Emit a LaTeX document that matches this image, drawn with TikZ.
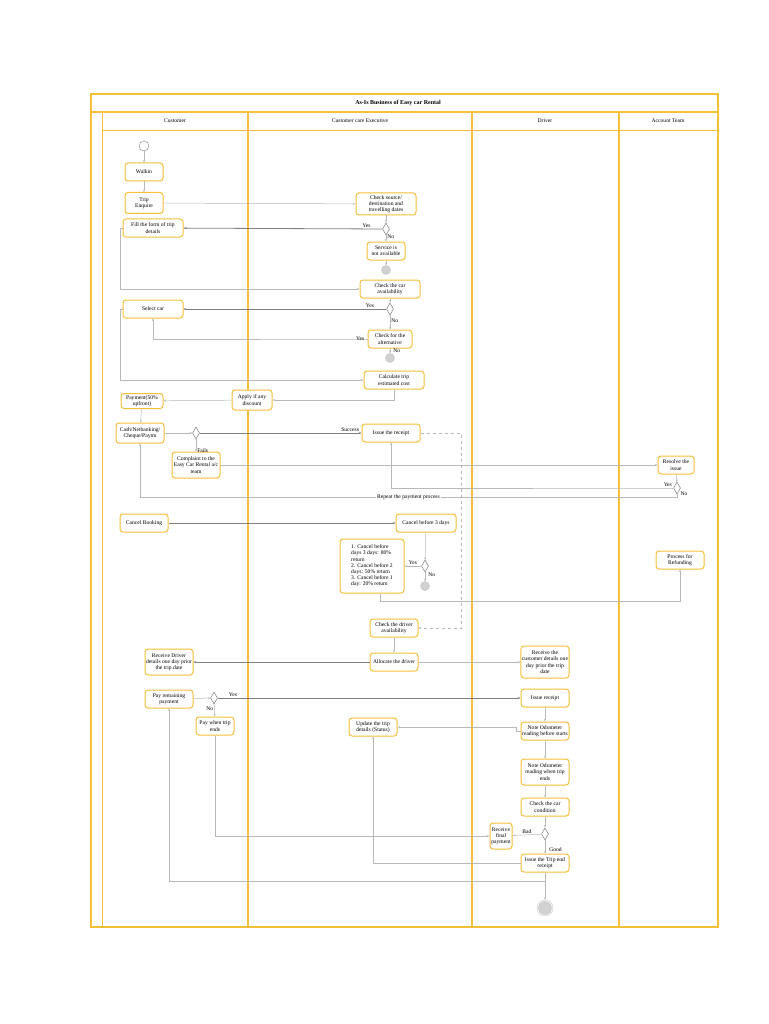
\documentclass[tikz,border=0pt]{standalone}
\usepackage{fontspec}
\setmainfont{Liberation Serif}
\usetikzlibrary{shapes.geometric,arrows.meta,calc}
\definecolor{ylw}{HTML}{F5C038}
\definecolor{ln}{HTML}{B8B8B8}
\definecolor{dk}{HTML}{808080}
\tikzset{
 act/.style={draw=ylw,line width=1pt,rounded corners=3pt,fill=white,align=center,font=\fontsize{5.6}{6.2}\selectfont,inner sep=1pt,minimum height=18pt},
 dec/.style={draw=dk,diamond,aspect=0.6,inner sep=0pt,minimum width=7pt,minimum height=12pt,fill=white,line width=0.5pt},
 fin/.style={circle,fill=black!18,draw=black!25,minimum size=9pt,inner sep=0pt},
 arr/.style={draw=ln,line width=0.5pt,-{Stealth[length=2.5pt,width=2pt]}},
 darr/.style={draw=dk,line width=0.8pt,-{Stealth[length=2.5pt,width=2pt]}},
 dsh/.style={arr,dashed},
 lbl/.style={font=\fontsize{5.6}{6.2}\selectfont,inner sep=1pt},
 lane/.style={draw=ylw,line width=1.2pt}
}
\begin{document}
\begin{tikzpicture}[x=1pt,y=-1pt]
\useasboundingbox (0,0) rectangle (768,1024);
% frame
\draw[lane] (91,94) rectangle (718,927);
\draw[lane] (91,112) -- (718,112);
\draw[draw=ylw,line width=0.8pt] (102,112) -- (102,927);
\draw[draw=ylw,line width=0.8pt] (102,130) -- (718,130);
\draw[lane] (248,112) -- (248,927);
\draw[lane] (472,112) -- (472,927);
\draw[lane] (619,112) -- (619,927);
\node[font=\bfseries\fontsize{6}{6.5}\selectfont] (title) at (398,103) {As-Is Business of Easy car Rental};
\node[lbl] (h1) at (175,121) {Customer};
\node[lbl] (h2) at (360,121) {Customer care Executive};
\node[lbl] (h3) at (545,121) {Driver};
\node[lbl] (h4) at (668,121) {Account Team};
% nodes
\node[circle,draw=dk,minimum size=10pt,inner sep=0pt] (start) at (144,146) {};
\node[act,minimum width=38pt] (walk) at (144,172) {Walkin};
\node[act,minimum width=38pt,minimum height=21pt] (trip) at (144,203) {Trip\\Enquire};
\node[act,minimum width=60pt,minimum height=22pt] (src) at (386,204) {Check source/\\destination and\\travelling dates};
\node[act,minimum width=60pt] (fill) at (153,228) {Fill the form of trip\\details};
\node[dec] (d1) at (386,229) {};
\node[act,minimum width=38pt] (nsvc) at (386,251) {Service is\\not available};
\node[fin] (e1) at (386,270) {};
\node[act,minimum width=60pt] (car) at (390,289) {Check the car\\availability};
\node[dec] (d2) at (390,309) {};
\node[act,minimum width=60pt] (sel) at (153,309) {Select car};
\node[act,minimum width=44pt] (alt) at (390,339) {Check for the\\alternative};
\node[fin] (e2) at (390,358) {};
\node[act,minimum width=60pt] (calc) at (394,380) {Calculate trip\\estimated cost};
\node[act,minimum width=40pt,minimum height=20pt] (disc) at (252,400) {Apply if any\\discount};
\node[act,minimum width=42pt,minimum height=15pt] (pay) at (142,401) {Payment(50\%\\upfront)};
\node[act,minimum width=48pt,minimum height=20pt] (cash) at (140,433) {Cash/Netbanking/\\Cheque/Paytm};
\node[dec] (d3) at (196,433) {};
\node[act,minimum width=58pt] (rcpt) at (391,433) {Issue the receipt};
\node[act,minimum width=48pt,minimum height=26pt] (comp) at (196,465) {Complaint to the\\Easy Car Rental a/c\\team};
\node[act,minimum width=36pt] (res) at (676,465) {Resolve the\\issue};
\node[dec] (d4) at (677,488) {};
\node[act,minimum width=48pt] (cb) at (144,523) {Cancel Booking};
\node[act,minimum width=60pt] (c3) at (426,523) {Cancel before 3 days};
\node[act,minimum width=64pt,minimum height=54pt,align=left] (list) at (372,566) {1. Cancel before\\days 3 days: 80\%\\return\\2. Cancel before 2\\days: 50\% return\\3. Cancel before 1\\day: 20\% return};
\node[dec] (d5) at (425,566) {};
\node[fin] (e3) at (425,586) {};
\node[act,minimum width=48pt] (ref) at (680,560) {Process for\\Refunding};
\node[act,minimum width=48pt] (drv) at (394,628) {Check the driver\\availability};
\node[act,minimum width=48pt] (alloc) at (394,662) {Allocate the driver};
\node[act,minimum width=48pt,minimum height=26pt] (rdd) at (169,662) {Receive Driver\\details one day prior\\the trip date};
\node[act,minimum width=48pt,minimum height=32pt] (rcd) at (545,662) {Receive the\\customer details one\\day prior the trip\\date};
\node[act,minimum width=48pt] (prem) at (169,699) {Pay remaining\\payment};
\node[dec] (d6) at (214,698) {};
\node[act,minimum width=48pt] (ir) at (545,698) {Issue receipt};
\node[act,minimum width=38pt] (pwt) at (215,726) {Pay when trip\\ends};
\node[act,minimum width=48pt] (upd) at (373,727) {Update the trip\\details (Status)};
\node[act,minimum width=48pt] (nob) at (545,731) {Note Odometer\\reading before starts};
\node[act,minimum width=48pt,minimum height=26pt] (noe) at (545,772) {Note Odometer\\reading when trip\\ends};
\node[act,minimum width=48pt] (ccc) at (545,807) {Check the car\\condition};
\node[dec] (d7) at (545,834) {};
\node[act,minimum width=22pt,minimum height=26pt] (rfp) at (501,836) {Receive\\final\\payment};
\node[act,minimum width=48pt] (ite) at (545,863) {Issue the Trip end\\receipt};
\node[circle,draw=black!25,minimum size=16pt,inner sep=0pt] (endo) at (545,908) {};
\node[fin,minimum size=13pt] (endi) at (545,908) {};
% edges
\draw[arr] (start) -- (walk);
\draw[arr] (walk) -- (trip);
\draw[arr] (trip) -- (src);
\draw[arr] (src) -- (d1);
\draw[darr] (d1) -- node[lbl,above,pos=0.08]{Yes} (fill);
\draw[arr] (d1) -- node[lbl,right,pos=0.3]{No} (nsvc);
\draw[arr] (nsvc) -- (e1);
\draw[arr] (fill.west) -- ++(-2,0) |- (car.west);
\draw[arr] (car) -- (d2);
\draw[darr] (d2) -- node[lbl,above,pos=0.08]{Yes} (sel);
\draw[arr] (d2) -- node[lbl,right,pos=0.4]{No} (alt);
\draw[arr] (alt.west) -- node[lbl,left,pos=1]{Yes} ++(-2,0) -| (sel.south);
\draw[arr] (alt) -- node[lbl,right,pos=0.5,xshift=2pt]{No} (e2);
\draw[arr] (sel.west) -- ++(-2,0) |- (calc.west);
\draw[arr] (calc.south) |- (disc.east);
\draw[arr] (disc) -- (pay);
\draw[arr] (pay) -- (cash);
\draw[arr] (cash) -- (d3);
\draw[darr] (d3) -- node[lbl,above,pos=0.93]{Success} (rcpt);
\draw[arr] (d3) -- node[lbl,right,pos=0.9]{Fails} (comp);
\draw[arr] (comp) -- (res);
\draw[arr] (res) -- (d4);
\draw[arr] (d4.west) -- node[lbl,above left,pos=0.05]{Yes} ++(-2,0) -| (rcpt.south);
\draw[arr] (d4.south) |- node[lbl,pos=0.75,fill=white]{Repeat the payment process} (140,497) -- (cash.south);
\node[lbl] (no4) at (684,494) {No};
\draw[dsh] (rcpt.east) -| (461,628) -- (drv.east);
\draw[darr] (cb) -- (c3);
\draw[arr] (c3) -- (d5);
\draw[arr] (d5) -- node[lbl,above]{Yes} (list);
\draw[arr] (d5) -- node[lbl,right,pos=0.3,xshift=2pt]{No} (e3);
\draw[arr] (list.south) ++(8,0) |- (680,601) -- (ref.south);
\draw[arr] (drv) -- (alloc);
\draw[darr] (alloc) -- (rdd);
\draw[arr] (alloc) -- (rcd);
\draw[arr] (prem) -- (d6);
\draw[darr] (d6) -- node[lbl,above,pos=0.05]{Yes} (ir);
\draw[arr] (d6) -- node[lbl,left,pos=0.4]{No} (pwt);
\draw[arr] (ir) -- (nob);
\draw[arr] (nob.west) -- ++(-4,0) |- (upd.east);
\draw[arr] (nob) -- (noe);
\draw[arr] (noe) -- (ccc);
\draw[arr] (ccc) -- (d7);
\draw[arr] (d7) -- node[lbl,above]{Bad} (rfp);
\draw[arr] (d7) -- node[lbl,right,pos=0.7,xshift=3pt]{Good} (ite);
\draw[arr] (pwt.south) |- (rfp.west);
\draw[arr] (ite.west) -| (upd.south);
\draw[arr] (ite) -- (endo);
\draw[arr] (545,881) -| (prem.south);
\end{tikzpicture}
\end{document}
